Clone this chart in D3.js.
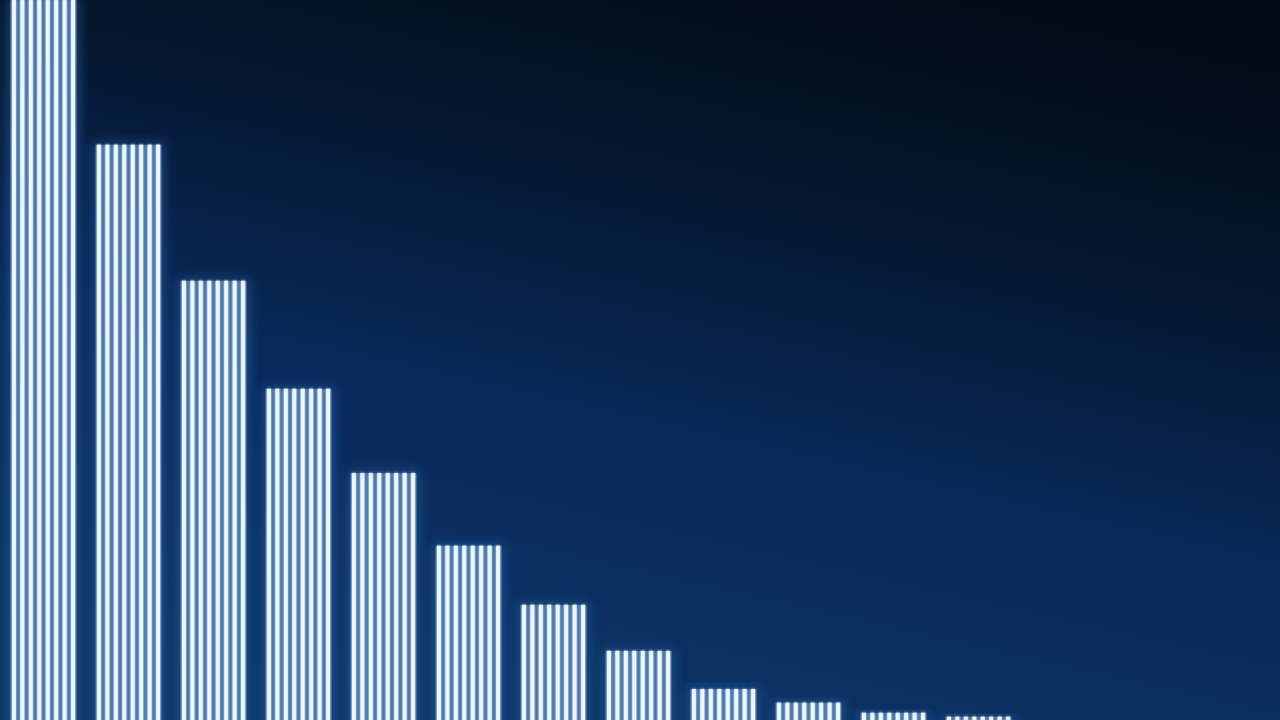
<!DOCTYPE html>
<html>
<head>
<meta charset="utf-8">
<script src="https://cdn.jsdelivr.net/npm/d3@7"></script>
<style>
html,body{margin:0;padding:0;background:#040f1c;overflow:hidden;}
svg{display:block;}
</style>
</head>
<body>
<svg id="chart" width="1280" height="720"></svg>
<script>
// Data (relative units; first bar reaches the top)
const categories = ["1","2","3","4","5","6","7","8","9","10","11","12"];
const values = [100, 79.9, 61.0, 46.0, 34.3, 24.2, 16.0, 9.6, 4.3, 2.4, 1.0, 0.45];
const stripes = [0,1,2,3,4,5,6,7];

const W = 1280, H = 720;
const svg = d3.select("#chart");
const defs = svg.append("defs");

const bg = defs.append("linearGradient").attr("id","bg")
  .attr("x1","0.75").attr("y1","0").attr("x2","0.35").attr("y2","1");
bg.append("stop").attr("offset","0").attr("stop-color","#030b16");
bg.append("stop").attr("offset","0.25").attr("stop-color","#05152b");
bg.append("stop").attr("offset","0.6").attr("stop-color","#09295a");
bg.append("stop").attr("offset","1").attr("stop-color","#0c3565");

const glow = defs.append("filter").attr("id","glow")
  .attr("x","-30%").attr("y","-10%").attr("width","160%").attr("height","120%");
glow.append("feGaussianBlur").attr("stdDeviation",6);

const soft = defs.append("filter").attr("id","soft")
  .attr("x","-50%").attr("y","-5%").attr("width","200%").attr("height","110%");
soft.append("feGaussianBlur").attr("in","SourceGraphic").attr("stdDeviation",1.1).attr("result","b");
const m = soft.append("feMerge");
m.append("feMergeNode").attr("in","b");
m.append("feMergeNode").attr("in","SourceGraphic");

svg.append("rect").attr("width",W).attr("height",H).attr("fill","url(#bg)");

const x = d3.scaleBand().domain(categories).range([1, 1021])
  .paddingInner(0.2).paddingOuter(0.1);
const y = d3.scaleLinear().domain([0, 100]).range([H, 0]);
const xs = d3.scaleBand().domain(stripes).range([0, x.bandwidth()])
  .paddingInner(0.55).paddingOuter(0.3);

const data = categories.map((c,i)=>({c, v: values[i]}));

// glow behind bars
svg.append("g").selectAll("rect").data(data).join("rect")
  .attr("x", d=>x(d.c)-2).attr("width", x.bandwidth()+4)
  .attr("y", d=>y(d.v)-2).attr("height", d=>H - y(d.v)+10)
  .attr("fill","#2c64a8").attr("opacity",0.55).attr("filter","url(#glow)");

// bar bodies (gaps between stripes)
svg.append("g").selectAll("rect").data(data).join("rect")
  .attr("x", d=>x(d.c)+1).attr("width", x.bandwidth()-2)
  .attr("y", d=>y(d.v)).attr("height", d=>H - y(d.v)+10)
  .attr("fill","#4a7ab2").attr("opacity",0.85);

// stripes
const g = svg.append("g").attr("filter","url(#soft)");
g.selectAll("g").data(data).join("g")
  .attr("transform", d=>`translate(${x(d.c)},0)`)
  .each(function(d){
    d3.select(this).selectAll("rect").data(stripes).join("rect")
      .attr("x", s=>xs(s)).attr("width", xs.bandwidth())
      .attr("y", y(d.v)).attr("height", H - y(d.v)+10)
      .attr("fill","#eef7ff");
  });
</script>
</body>
</html>
